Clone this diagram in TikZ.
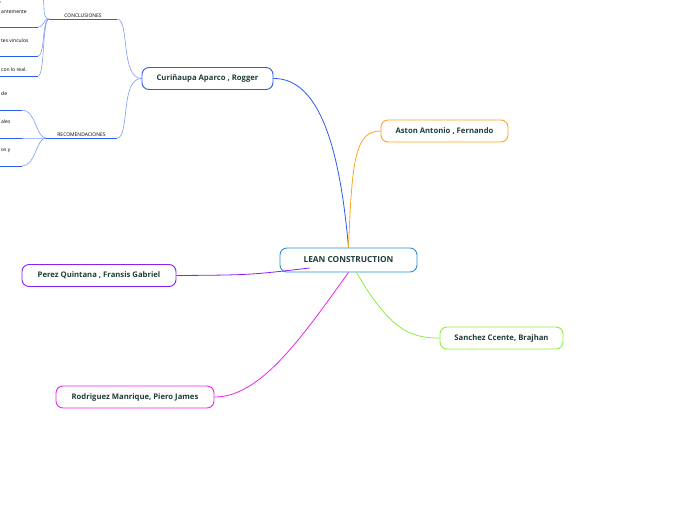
\documentclass[tikz,border=0pt]{standalone}
\usepackage{fontspec}
\setmainfont{Open Sans}
\definecolor{cblue}{HTML}{2B5BF0}
\definecolor{cviol}{HTML}{8A1EF5}
\definecolor{cmag}{HTML}{EE22EE}
\definecolor{cgreen}{HTML}{88F03A}
\definecolor{corange}{HTML}{FFA41E}
\definecolor{croot}{HTML}{2B8FD8}
\definecolor{ctext}{HTML}{1E3D3A}
\definecolor{csub}{HTML}{7E9BF7}
\begin{document}
\begin{tikzpicture}[x=1pt,y=-1pt,
 topic/.style={draw=#1,line width=0.9pt,rounded corners=7pt,minimum height=22pt,inner xsep=8pt,font=\bfseries\fontsize{7.7}{9}\selectfont,text=ctext},
 sub/.style={font=\fontsize{5}{6}\selectfont,inner sep=1pt},
 cb/.style={draw=#1,line width=0.8pt},
 tb/.style={draw=csub,line width=0.6pt}]
\useasboundingbox (0,0) rectangle (697,520);
\node[topic=croot,font=\bfseries\fontsize{8.3}{10}\selectfont,minimum width=137pt,minimum height=24pt] (root) at (348.5,260) {LEAN CONSTRUCTION};
\node[topic=cblue,minimum width=131pt] (rog) at (207.5,78.5) {Curiñaupa Aparco , Rogger};
\node[topic=corange,minimum width=127pt] (ast) at (444.5,131) {Aston Antonio , Fernando};
\node[topic=cviol,minimum width=154pt] (per) at (99,275.5) {Perez Quintana , Fransis Gabriel};
\node[topic=cgreen,minimum width=123pt] (san) at (501.5,338) {Sanchez Ccente, Brajhan};
\node[topic=cmag,minimum width=158pt] (rod) at (135,397) {Rodriguez Manrique, Piero James};
\draw[cb=cblue] (root.north) .. controls (340,150) and (320,78) .. (rog.east);
\draw[cb=corange] (root.north) .. controls (352,160) and (355,131) .. (ast.west);
\draw[cb=cviol] (root.west)++(30,8) coordinate (pa) (pa) .. controls (250,275) .. (per.east);
\draw[cb=cgreen] (root.south)++(8,0) coordinate (sa) (sa) .. controls (390,330) and (410,338) .. (san.west);
\draw[cb=cmag] (root.south) .. controls (300,340) and (260,397) .. (rod.east);
\coordinate (c1) at (49,19); \coordinate (c2) at (117,19);
\coordinate (r1) at (46,138); \coordinate (r2) at (117,138);
\draw[line width=0.8pt,draw=cblue] (c1)--(c2) (r1)--(r2);
\node[sub,above] (con) at (83,19) {CONCLUSIONES};
\node[sub,above] (rec) at (81.5,138) {RECOMENDACIONES};
\draw[tb] (rog.west) .. controls (120,78) and (130,19) .. (c2);
\draw[tb] (rog.west) .. controls (120,78) and (130,138) .. (r2);
\foreach \y in {27,56,76}{\draw[tb] (c1) .. controls (42,19) and (45,\y) .. (38,\y); \draw[cblue,line width=0.8pt] (38,\y) -- (0,\y);}
\draw[tb] (c1) .. controls (42,19) and (45,5) .. (43,-2);
\foreach \y in {110,138,166}{\draw[tb] (r1) .. controls (36,138) and (36,\y) .. (22,\y); \draw[cblue,line width=0.8pt] (22,\y) -- (0,\y);}
\node[sub,anchor=west] (t1) at (-1,3) {,};
\node[sub,anchor=west] (t2) at (0,12) {antemente};
\node[sub,anchor=west] (t3) at (0,41) {tes vinculos};
\node[sub,anchor=west] (t4) at (0,70) {con lo real.};
\node[sub,anchor=west] (t5) at (0,94) {de};
\node[sub,anchor=west] (t6) at (0,122) {ales};
\node[sub,anchor=west] (t7) at (0,151) {os y};
\end{tikzpicture}
\end{document}
